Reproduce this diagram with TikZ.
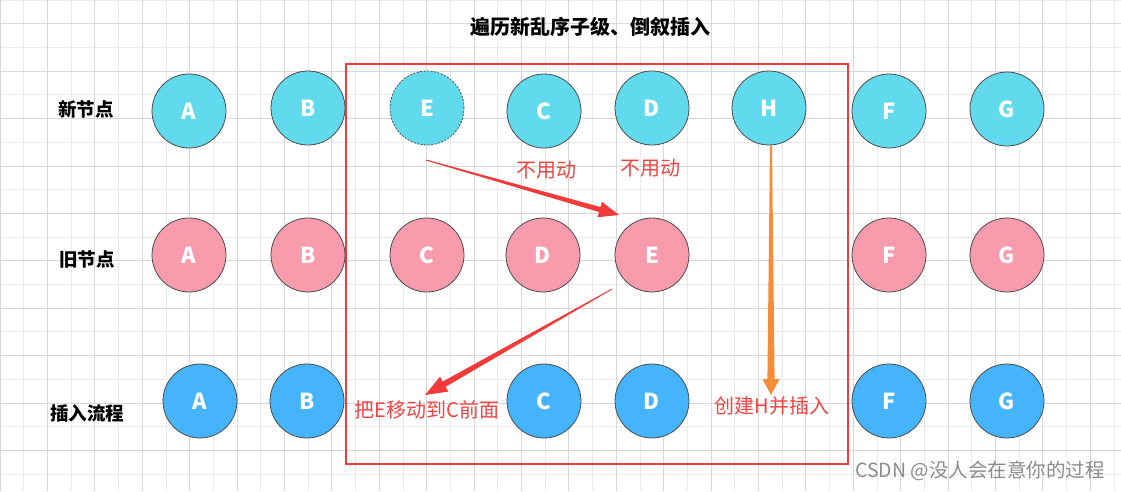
\documentclass[tikz,border=0pt]{standalone}
\usepackage{fontspec}
\newfontfamily\cjk{Noto Sans CJK SC}
\usetikzlibrary{calc}
\definecolor{cyanfill}{HTML}{61DAEE}
\definecolor{pinkfill}{HTML}{F79BAD}
\definecolor{bluefill}{HTML}{45B4FC}
\definecolor{redline}{HTML}{F03C3C}
\definecolor{redtext}{HTML}{F24444}
\definecolor{redarrow}{HTML}{F23A3A}
\definecolor{orangearrow}{HTML}{F68B38}
\definecolor{gridminor}{HTML}{EAEAEA}
\definecolor{gridmajor}{HTML}{D8D8D8}
\definecolor{wmgray}{HTML}{8C8C8C}
% #1 start, #2 tip, #3 start half-width, #4 shaft half-width at head, #5 head length, #6 head half-width, #7 colour
\newcommand\taperarrow[7]{%
  \coordinate (th) at ($(#2)!#5!(#1)$);
  \fill[#7] ($(#1)!#3!90:(#2)$) -- ($(th)!#4!90:(#2)$) -- ($(th)!#6!90:(#2)$) -- (#2)
    -- ($(th)!#6!-90:(#2)$) -- ($(th)!#4!-90:(#2)$) -- ($(#1)!#3!-90:(#2)$) -- cycle;
}
\tikzset{
  ball/.style={circle, minimum size=74pt, inner sep=0pt, draw=black!70, line width=0.8pt,
    font=\cjk\bfseries\fontsize{22}{24}\selectfont, text=white},
  newball/.style={ball, fill=cyanfill},
  oldball/.style={ball, fill=pinkfill},
  insball/.style={ball, fill=bluefill},
  rowlabel/.style={font=\cjk\bfseries\fontsize{18.5}{20}\selectfont, text=black},
  redlabel/.style={font=\cjk\fontsize{20}{22}\selectfont, text=redtext},
}
\begin{document}
\begin{tikzpicture}[x=1pt, y=-1pt]
\useasboundingbox (0,0) rectangle (1121,491);
\fill[white] (0,0) rectangle (1121,491);
% grid
\foreach \i in {0,...,47} \draw[gridminor, line width=0.8pt] (\i*23.7,0) -- (\i*23.7,491);
\foreach \j in {0,...,20} \draw[gridminor, line width=0.8pt] (0,\j*23.7) -- (1121,\j*23.7);
\foreach \i in {0,2,...,46} \draw[gridmajor, line width=0.8pt] (\i*23.7,0) -- (\i*23.7,491);
\foreach \j in {1,3,...,19} \draw[gridmajor, line width=0.8pt] (0,\j*23.7) -- (1121,\j*23.7);

% title
\node[font=\cjk\bfseries\fontsize{20}{22}\selectfont] (title) at (590,27) {遍历新乱序子级、倒叙插入};

% row labels
\node[rowlabel] (lnew) at (86,109) {新节点};
\node[rowlabel] (lold) at (87,259) {旧节点};
\node[rowlabel] (lins) at (87,413) {插入流程};

% frame
\draw[redline, line width=2.6pt] (346,64) rectangle (848,464);

% new nodes
\node[newball] (nA) at (189,111) {A};
\node[newball] (nB) at (308,108) {B};
\node[newball, dash pattern=on 2pt off 1.5pt] (nE) at (427,108) {E};
\node[newball] (nC) at (544,111) {C};
\node[newball] (nD) at (652,108) {D};
\node[newball] (nH) at (769,108) {H};
\node[newball] (nF) at (889,111) {F};
\node[newball] (nG) at (1007,109) {G};

% old nodes
\node[oldball] (oA) at (189,255) {A};
\node[oldball] (oB) at (308,255) {B};
\node[oldball] (oC) at (427,255) {C};
\node[oldball] (oD) at (543,255) {D};
\node[oldball] (oE) at (652,255) {E};
\node[oldball] (oF) at (889,255) {F};
\node[oldball] (oG) at (1007,255) {G};

% insert nodes
\node[insball] (iA) at (200,401) {A};
\node[insball] (iB) at (307,401) {B};
\node[insball] (iC) at (544,401) {C};
\node[insball] (iD) at (652,401) {D};
\node[insball] (iF) at (889,401) {F};
\node[insball] (iG) at (1007,401) {G};

% arrows
\coordinate (a1s) at (426,160);
\coordinate (a1e) at (619,215);
\taperarrow{a1s}{a1e}{0.5pt}{2.6pt}{20pt}{8pt}{redarrow}
\coordinate (a2s) at (612,289);
\coordinate (a2e) at (425,395);
\taperarrow{a2s}{a2e}{0.4pt}{3pt}{22pt}{8.5pt}{redarrow}
\coordinate (a3s) at ($(nH.south)+(2,0)$);
\coordinate (a3e) at (771,395);
\taperarrow{a3s}{a3e}{1pt}{3.6pt}{16pt}{8.5pt}{orangearrow}

% red labels
\node[redlabel] (t1) at (546,170) {不用动};
\node[redlabel] (t2) at (650,168) {不用动};
\node[redlabel] (t3) at (427,410) {把E移动到C前面};
\node[redlabel] (t4) at (772,406) {创建H并插入};

% watermark
\node[font=\cjk\fontsize{19.5}{21}\selectfont, text=wmgray] (wm) at (980,471) {CSDN @没人会在意你的过程};
\end{tikzpicture}
\end{document}
